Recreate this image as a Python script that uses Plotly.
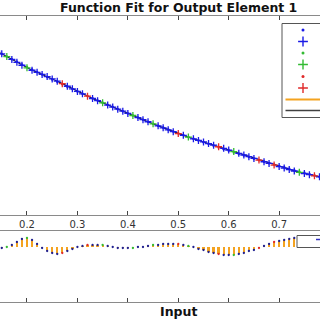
import plotly.graph_objects as go

# ---------------- data ----------------
x_input = [0.14, 0.15, 0.16, 0.17, 0.18, 0.19, 0.20, 0.21, 0.22, 0.23,
           0.24, 0.25, 0.26, 0.27, 0.28, 0.29, 0.30, 0.31, 0.32, 0.33,
           0.34, 0.35, 0.36, 0.37, 0.38, 0.39, 0.40, 0.41, 0.42, 0.43,
           0.44, 0.45, 0.46, 0.47, 0.48, 0.49, 0.50, 0.51, 0.52, 0.53,
           0.54, 0.55, 0.56, 0.57, 0.58, 0.59, 0.60, 0.61, 0.62, 0.63,
           0.64, 0.65, 0.66, 0.67, 0.68, 0.69, 0.70, 0.71, 0.72, 0.73,
           0.74, 0.75, 0.76, 0.77, 0.78, 0.79]
targets = [1.646, 1.619, 1.592, 1.566, 1.539, 1.513, 1.488, 1.462, 1.437, 1.412,
           1.387, 1.362, 1.338, 1.314, 1.290, 1.266, 1.242, 1.219, 1.196, 1.173,
           1.151, 1.129, 1.106, 1.085, 1.063, 1.042, 1.020, 0.999, 0.979, 0.958,
           0.938, 0.918, 0.898, 0.879, 0.859, 0.840, 0.821, 0.803, 0.784, 0.766,
           0.748, 0.731, 0.713, 0.696, 0.679, 0.662, 0.645, 0.629, 0.613, 0.597,
           0.582, 0.566, 0.551, 0.536, 0.521, 0.507, 0.493, 0.479, 0.465, 0.451,
           0.438, 0.425, 0.412, 0.399, 0.387, 0.375]
errors = [-0.001, -0.001, 0.000, 0.002, 0.005, 0.008, 0.009, 0.007, 0.003, -0.001,
          -0.004, -0.006, -0.007, -0.006, -0.004, -0.002, 0.000, 0.001, 0.002, 0.002,
          0.002, 0.002, 0.001, 0.000, -0.001, -0.001, -0.001, -0.001, 0.000, 0.000,
          0.001, 0.002, 0.002, 0.003, 0.003, 0.003, 0.003, 0.002, 0.001, 0.000,
          -0.002, -0.003, -0.005, -0.006, -0.007, -0.008, -0.008, -0.008, -0.007, -0.006,
          -0.004, -0.003, -0.001, 0.001, 0.003, 0.005, 0.006, 0.007, 0.008, 0.009,
          0.009, 0.008, 0.007, 0.005, 0.003, 0.001]
validation_inputs = [0.16, 0.20, 0.35, 0.41, 0.45, 0.52, 0.61, 0.74]
test_inputs = [0.27, 0.32, 0.50, 0.58, 0.66, 0.69, 0.77]
tick_values = [0.1, 0.2, 0.3, 0.4, 0.5, 0.6, 0.7, 0.8, 0.9]
tick_labels = ["0.1", "0.2", "0.3", "0.4", "0.5", "0.6", "0.7", "0.8", "0.9"]
title_text = "Function Fit for Output Element 1"
xlabel_text = "Input"

outputs = [round(t - e, 4) for t, e in zip(targets, errors)]

def subset(kind):
    xs, ts, os_, es = [], [], [], []
    for x, t, o, e in zip(x_input, targets, outputs, errors):
        k = "val" if x in validation_inputs else ("test" if x in test_inputs else "train")
        if k == kind:
            xs.append(x); ts.append(t); os_.append(o); es.append(e)
    return xs, ts, os_, es

colors = {"train": "#1a1ae6", "val": "#33bb33", "test": "#e02a2a"}
ERR_COLOR = "#f4a320"

fig = go.Figure()

# Fit line
fig.add_trace(go.Scatter(x=x_input, y=outputs, mode="lines",
                         line=dict(color="#101060", width=1.2), xaxis="x", yaxis="y"))
for kind in ["train", "val", "test"]:
    xs, ts, os_, es = subset(kind)
    fig.add_trace(go.Scatter(x=xs, y=ts, mode="markers",
                             marker=dict(symbol="circle", size=2.5, color=colors[kind]),
                             xaxis="x", yaxis="y"))
    fig.add_trace(go.Scatter(x=xs, y=os_, mode="markers",
                             marker=dict(symbol="cross-thin", size=5,
                                         line=dict(color=colors[kind], width=1.3)),
                             xaxis="x", yaxis="y"))

# Error stems
fig.add_trace(go.Bar(x=x_input, y=errors, width=0.0045, marker=dict(color=ERR_COLOR, line=dict(width=0)),
                     xaxis="x2", yaxis="y2"))
for kind in ["train", "val", "test"]:
    xs, ts, os_, es = subset(kind)
    fig.add_trace(go.Scatter(x=xs, y=es, mode="markers",
                             marker=dict(symbol="circle", size=2.3,
                                         color="#202090" if kind == "train" else colors[kind]),
                             xaxis="x2", yaxis="y2"))

# Legend boxes (pixel overlay)
def box(x0, y0, x1, y1):
    fig.add_trace(go.Scatter(x=[x0, x1, x1, x0, x0], y=[y0, y0, y1, y1, y0], mode="lines",
                             fill="toself", fillcolor="white",
                             line=dict(color="#555555", width=1), xaxis="x3", yaxis="y3"))

box(282, 23.5, 330, 117.5)
leg_marks = [("circle", 3, colors["train"], 30), ("cross-thin", 7, colors["train"], 41.5),
             ("circle", 3, colors["val"], 53), ("cross-thin", 7, colors["val"], 64.5),
             ("circle", 3, colors["test"], 76.5), ("cross-thin", 7, colors["test"], 88)]
for sym, sz, col, yy in leg_marks:
    if sym == "circle":
        mk = dict(symbol=sym, size=sz, color=col)
    else:
        mk = dict(symbol=sym, size=sz, line=dict(color=col, width=1.4))
    fig.add_trace(go.Scatter(x=[303], y=[yy], mode="markers", marker=mk, xaxis="x3", yaxis="y3"))
fig.add_trace(go.Scatter(x=[285.5, 330], y=[99.5, 99.5], mode="lines",
                         line=dict(color=ERR_COLOR, width=2), xaxis="x3", yaxis="y3"))
fig.add_trace(go.Scatter(x=[285.5, 330], y=[110.5, 110.5], mode="lines",
                         line=dict(color="#404040", width=1.5), xaxis="x3", yaxis="y3"))

box(297, 235.5, 330, 247.5)
fig.add_trace(go.Scatter(x=[316, 322], y=[239.5, 239.5], mode="lines",
                         line=dict(color="#3030c0", width=1.5), xaxis="x3", yaxis="y3"))

xr = [0.1465, 0.781]
axis_common = dict(range=xr, tickvals=tick_values, ticktext=tick_labels, ticks="inside",
                   ticklen=4, tickwidth=1, tickcolor="#444444", showline=True,
                   linecolor="#8a8a8a", linewidth=1, showgrid=False, zeroline=False,
                   tickfont=dict(family="DejaVu Sans", size=10, color="#333333"))

fig.update_layout(
    width=320, height=320, margin=dict(l=0, r=0, t=0, b=0),
    paper_bgcolor="white", plot_bgcolor="rgba(0,0,0,0)", showlegend=False,
    bargap=0,
    xaxis=dict(domain=[0, 1], anchor="y", mirror="ticks", **axis_common),
    yaxis=dict(domain=[0.328125, 0.95], range=[0, 2], visible=False),
    xaxis2=dict(domain=[0, 1], anchor="y2", mirror=True, showticklabels=False, **axis_common),
    yaxis2=dict(domain=[0.05625, 0.278125], range=[-0.055, 0.016], visible=False),
    xaxis3=dict(domain=[0, 1], anchor="y3", range=[0, 320], visible=False),
    yaxis3=dict(domain=[0, 1], anchor="x3", range=[320, 0], visible=False),
    annotations=[
        dict(text="<b>" + title_text + "</b>", xref="paper", yref="paper", x=0.558, y=1 - 7.5 / 320,
             xanchor="center", yanchor="middle", showarrow=False,
             font=dict(family="DejaVu Sans", size=12.5, color="#111111")),
        dict(text="<b>" + xlabel_text + "</b>", xref="paper", yref="paper", x=0.558, y=1 - 311 / 320,
             xanchor="center", yanchor="middle", showarrow=False,
             font=dict(family="DejaVu Sans", size=12.5, color="#111111")),
    ],
)

fig.write_html("out.html")
